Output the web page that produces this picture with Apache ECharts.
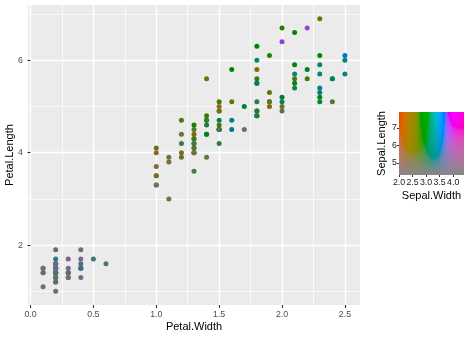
<!DOCTYPE html>
<html><head><meta charset="utf-8">
<script src="https://cdn.jsdelivr.net/npm/echarts@6/dist/echarts.min.js"></script>
<style>html,body{margin:0;padding:0;background:#fff}#c{width:474px;height:338px}</style>
</head><body><div id="c"></div>
<script>
// ---- data (iris) ----
const sepalLength = [5.1,4.9,4.7,4.6,5.0,5.4,4.6,5.0,4.4,4.9,5.4,4.8,4.8,4.3,5.8,5.7,5.4,5.1,5.7,5.1,5.4,5.1,4.6,5.1,4.8,5.0,5.0,5.2,5.2,4.7,4.8,5.4,5.2,5.5,4.9,5.0,5.5,4.9,4.4,5.1,5.0,4.5,4.4,5.0,5.1,4.8,5.1,4.6,5.3,5.0,
7.0,6.4,6.9,5.5,6.5,5.7,6.3,4.9,6.6,5.2,5.0,5.9,6.0,6.1,5.6,6.7,5.6,5.8,6.2,5.6,5.9,6.1,6.3,6.1,6.4,6.6,6.8,6.7,6.0,5.7,5.5,5.5,5.8,6.0,5.4,6.0,6.7,6.3,5.6,5.5,5.5,6.1,5.8,5.0,5.6,5.7,5.7,6.2,5.1,5.7,
6.3,5.8,7.1,6.3,6.5,7.6,4.9,7.3,6.7,7.2,6.5,6.4,6.8,5.7,5.8,6.4,6.5,7.7,7.7,6.0,6.9,5.6,7.7,6.3,6.7,7.2,6.2,6.1,6.4,7.2,7.4,7.9,6.4,6.3,6.1,7.7,6.3,6.4,6.0,6.9,6.7,6.9,5.8,6.8,6.7,6.7,6.3,6.5,6.2,5.9];
const sepalWidth = [3.5,3.0,3.2,3.1,3.6,3.9,3.4,3.4,2.9,3.1,3.7,3.4,3.0,3.0,4.0,4.4,3.9,3.5,3.8,3.8,3.4,3.7,3.6,3.3,3.4,3.0,3.4,3.5,3.4,3.2,3.1,3.4,4.1,4.2,3.1,3.2,3.5,3.6,3.0,3.4,3.5,2.3,3.2,3.5,3.8,3.0,3.8,3.2,3.7,3.3,
3.2,3.2,3.1,2.3,2.8,2.8,3.3,2.4,2.9,2.7,2.0,3.0,2.2,2.9,2.9,3.1,3.0,2.7,2.2,2.5,3.2,2.8,2.5,2.8,2.9,3.0,2.8,3.0,2.9,2.6,2.4,2.4,2.7,2.7,3.0,3.4,3.1,2.3,3.0,2.5,2.6,3.0,2.6,2.3,2.7,3.0,2.9,2.9,2.5,2.8,
3.3,2.7,3.0,2.9,3.0,3.0,2.5,2.9,2.5,3.6,3.2,2.7,3.0,2.5,2.8,3.2,3.0,3.8,2.6,2.2,3.2,2.8,2.8,2.7,3.3,3.2,2.8,3.0,2.8,3.0,2.8,3.8,2.8,2.8,2.6,3.0,3.4,3.1,3.0,3.1,3.1,3.1,2.7,3.2,3.3,3.0,2.5,3.0,3.4,3.0];
const petalLength = [1.4,1.4,1.3,1.5,1.4,1.7,1.4,1.5,1.4,1.5,1.5,1.6,1.4,1.1,1.2,1.5,1.3,1.4,1.7,1.5,1.7,1.5,1.0,1.7,1.9,1.6,1.6,1.5,1.4,1.6,1.6,1.5,1.5,1.4,1.5,1.2,1.3,1.4,1.3,1.5,1.3,1.3,1.3,1.6,1.9,1.4,1.6,1.4,1.5,1.4,
4.7,4.5,4.9,4.0,4.6,4.5,4.7,3.3,4.6,3.9,3.5,4.2,4.0,4.7,3.6,4.4,4.5,4.1,4.5,3.9,4.8,4.0,4.9,4.7,4.3,4.4,4.8,5.0,4.5,3.5,3.8,3.7,3.9,5.1,4.5,4.5,4.7,4.4,4.1,4.0,4.4,4.6,4.0,3.3,4.2,4.2,4.2,4.3,3.0,4.1,
6.0,5.1,5.9,5.6,5.8,6.6,4.5,6.3,5.8,6.1,5.1,5.3,5.5,5.0,5.1,5.3,5.5,6.7,6.9,5.0,5.7,4.9,6.7,4.9,5.7,6.0,4.8,4.9,5.6,5.8,6.1,6.4,5.6,5.1,5.6,6.1,5.6,5.5,4.8,5.4,5.6,5.1,5.1,5.9,5.7,5.2,5.0,5.2,5.4,5.1];
const petalWidth = [0.2,0.2,0.2,0.2,0.2,0.4,0.3,0.2,0.2,0.1,0.2,0.2,0.1,0.1,0.2,0.4,0.4,0.3,0.3,0.3,0.2,0.4,0.2,0.5,0.2,0.2,0.4,0.2,0.2,0.2,0.2,0.4,0.1,0.2,0.2,0.2,0.2,0.1,0.2,0.2,0.3,0.3,0.2,0.6,0.4,0.3,0.2,0.2,0.2,0.2,
1.4,1.5,1.5,1.3,1.5,1.3,1.6,1.0,1.3,1.4,1.0,1.5,1.0,1.4,1.3,1.4,1.5,1.0,1.5,1.1,1.8,1.3,1.5,1.2,1.3,1.4,1.4,1.7,1.5,1.0,1.1,1.0,1.2,1.6,1.5,1.6,1.5,1.3,1.3,1.3,1.2,1.4,1.2,1.0,1.3,1.2,1.3,1.3,1.1,1.3,
2.5,1.9,2.1,1.8,2.2,2.1,1.7,1.8,1.8,2.5,2.0,1.9,2.1,2.0,2.4,2.3,1.8,2.2,2.3,1.5,2.3,2.0,2.0,1.8,2.1,1.8,1.8,1.8,2.1,1.6,1.9,2.0,2.2,1.5,1.4,2.3,2.4,1.8,1.8,2.1,2.4,2.3,1.9,2.3,2.5,2.3,1.9,2.0,2.3,1.8];

// ---- tick labels ----
const xMajorTicks = [0, 0.5, 1, 1.5, 2, 2.5];
const xMinorTicks = [0.25, 0.75, 1.25, 1.75, 2.25];
const yMajorTicks = [2, 4, 6];
const yMinorTicks = [1, 3, 5, 7];
const legendWidthTicks = [2.0, 2.5, 3.0, 3.5, 4.0];
const legendLengthTicks = [5, 6, 7];

// ---- scales ----
function expandRange(arr) {
  const lo = Math.min(...arr), hi = Math.max(...arr), d = (hi - lo) * 0.05;
  return [lo - d, hi + d];
}
const xr = expandRange(petalWidth), yr = expandRange(petalLength);
const swMin = Math.min(...sepalWidth), swMax = Math.max(...sepalWidth);
const slMin = Math.min(...sepalLength), slMax = Math.max(...sepalLength);

// bivariate colour: hue from Sepal.Width, chroma from Sepal.Length (HCL, clipped)
const hueStops = [[2.0,15],[2.2,48],[2.4,70],[2.6,85],[2.8,115],[3.0,135],[3.3,190],[3.6,245],[3.8,280],[4.0,305],[4.4,330]];
function hueOf(w) {
  if (w <= hueStops[0][0]) return hueStops[0][1];
  for (let i = 1; i < hueStops.length; i++) {
    if (w <= hueStops[i][0]) {
      const a = hueStops[i-1], b = hueStops[i];
      return a[1] + (b[1] - a[1]) * (w - a[0]) / (b[0] - a[0]);
    }
  }
  return hueStops[hueStops.length-1][1];
}
function hcl2rgb(h, c, l) {
  const XN = 95.047, YN = 100, ZN = 108.883;
  const hr = h * Math.PI / 180;
  const U = c * Math.cos(hr), V = c * Math.sin(hr);
  const Y = l > 8 ? YN * Math.pow((l + 16) / 116, 3) : YN * l / 903.3;
  const den = XN + 15 * YN + 3 * ZN;
  const un = 4 * XN / den, vn = 9 * YN / den;
  const up = U / (13 * l) + un, vp = V / (13 * l) + vn;
  const X = 9 * Y * up / (4 * vp);
  const Z = Y * (12 - 3 * up - 20 * vp) / (4 * vp);
  const x = X / 100, y = Y / 100, z = Z / 100;
  const r = 3.240479 * x - 1.537150 * y - 0.498535 * z;
  const g = -0.969256 * x + 1.875992 * y + 0.041556 * z;
  const b = 0.055648 * x - 0.204043 * y + 1.057311 * z;
  const gam = v => { v = Math.min(1, Math.max(0, v)); v = v <= 0.0031308 ? 12.92 * v : 1.055 * Math.pow(v, 1 / 2.4) - 0.055; return Math.round(v * 255); };
  return [gam(r), gam(g), gam(b)];
}
function colourRGB(w, len, lum, cmax) {
  const c = Math.max(0, (len - slMin) / (slMax - slMin)) * cmax;
  return hcl2rgb(hueOf(w), c, lum);
}

const points = petalWidth.map((pw, i) => [pw, petalLength[i], sepalWidth[i], sepalLength[i]]);

const FONT = 'Liberation Sans, Arial, sans-serif';
const chart = echarts.init(document.getElementById('c'), null, { renderer: 'canvas' });
const hidden = { show: false };
chart.setOption({
  animation: false,
  textStyle: { fontFamily: FONT },
  grid: [
    { left: 28, right: 114, top: 5, bottom: 33, show: true, backgroundColor: '#EBEBEB', borderWidth: 0, outerBoundsMode: 'none', containLabel: false },
    { left: 399, right: 10, top: 112, bottom: 163, show: false, outerBoundsMode: 'none', containLabel: false }
  ],
  xAxis: [
    { gridIndex: 0, type: 'value', min: xr[0], max: xr[1], position: 'bottom',
      axisLine: hidden,
      axisTick: { show: true, customValues: xMajorTicks, length: 3, lineStyle: { color: '#333333', width: 1.1 } },
      axisLabel: { customValues: xMajorTicks, formatter: v => v.toFixed(1), color: '#4D4D4D', fontSize: 8.8, margin: 5, fontFamily: FONT },
      splitLine: { show: true, lineStyle: { color: '#FFFFFF', width: 1.4 } },
      name: 'Petal.Width', nameLocation: 'middle', nameGap: 16, nameMoveOverlap: false,
      nameTextStyle: { color: '#000000', fontSize: 11, fontFamily: FONT } },
    { gridIndex: 0, type: 'value', min: xr[0], max: xr[1], position: 'bottom',
      axisLine: hidden, axisTick: { show: false, customValues: xMinorTicks },
      axisLabel: { show: false, customValues: xMinorTicks },
      splitLine: { show: true, lineStyle: { color: '#FFFFFF', width: 0.7 } } },
    { gridIndex: 1, type: 'value', min: swMin, max: swMax, position: 'bottom',
      axisLine: hidden,
      axisTick: { show: true, customValues: legendWidthTicks, length: 2, lineStyle: { color: '#333333', width: 1 } },
      axisLabel: { customValues: legendWidthTicks, formatter: v => v.toFixed(1), color: '#1A1A1A', fontSize: 8.8, margin: 3, fontFamily: FONT },
      splitLine: hidden,
      name: 'Sepal.Width', nameLocation: 'middle', nameGap: 15,
      nameTextStyle: { color: '#000000', fontSize: 11, fontFamily: FONT } }
  ],
  yAxis: [
    { gridIndex: 0, type: 'value', min: yr[0], max: yr[1], position: 'left',
      axisLine: hidden,
      axisTick: { show: true, customValues: yMajorTicks, length: 3, lineStyle: { color: '#333333', width: 1.1 } },
      axisLabel: { customValues: yMajorTicks, formatter: v => String(v), color: '#4D4D4D', fontSize: 8.8, margin: 5, fontFamily: FONT },
      splitLine: { show: true, lineStyle: { color: '#FFFFFF', width: 1.4 } },
      name: 'Petal.Length', nameLocation: 'middle', nameGap: 13, nameMoveOverlap: false,
      nameTextStyle: { color: '#000000', fontSize: 11, fontFamily: FONT } },
    { gridIndex: 0, type: 'value', min: yr[0], max: yr[1], position: 'left',
      axisLine: hidden, axisTick: { show: false, customValues: yMinorTicks },
      axisLabel: { show: false, customValues: yMinorTicks },
      splitLine: { show: true, lineStyle: { color: '#FFFFFF', width: 0.7 } } },
    { gridIndex: 1, type: 'value', min: slMin, max: slMax, position: 'left',
      axisLine: hidden,
      axisTick: { show: true, customValues: legendLengthTicks, length: 2, lineStyle: { color: '#333333', width: 1 } },
      axisLabel: { customValues: legendLengthTicks, formatter: v => String(v), color: '#1A1A1A', fontSize: 8.8, margin: 2, fontFamily: FONT },
      splitLine: hidden,
      name: 'Sepal.Length', nameLocation: 'middle', nameGap: 12,
      nameTextStyle: { color: '#000000', fontSize: 11, fontFamily: FONT } }
  ],
  series: [{
    type: 'scatter', xAxisIndex: 0, yAxisIndex: 0, silent: true,
    symbol: 'circle', symbolSize: 5,
    data: points,
    itemStyle: { opacity: 1, color: p => 'rgb(' + colourRGB(p.data[2], p.data[3], 46, 110).join(',') + ')' }
  }]
});

// legend raster, positioned through the legend grid's scales
const p0 = chart.convertToPixel({ gridIndex: 1 }, [swMin, slMax]);
const p1 = chart.convertToPixel({ gridIndex: 1 }, [swMax, slMin]);
const W = Math.round(p1[0] - p0[0]), H = Math.round(p1[1] - p0[1]);
const cv = document.createElement('canvas');
cv.width = W; cv.height = H;
const ctx = cv.getContext('2d');
const img = ctx.createImageData(W, H);
for (let j = 0; j < H; j++) {
  for (let i = 0; i < W; i++) {
    const w = swMin + (i + 0.5) / W * (swMax - swMin);
    const len = slMax - (j + 0.5) / H * (slMax - slMin);
    const rgb = colourRGB(w, len, 56, 165);
    const k = (j * W + i) * 4;
    img.data[k] = rgb[0]; img.data[k+1] = rgb[1]; img.data[k+2] = rgb[2]; img.data[k+3] = 255;
  }
}
ctx.putImageData(img, 0, 0);
chart.setOption({
  graphic: [{ type: 'image', left: p0[0], top: p0[1], z: -1, silent: true,
    style: { image: cv.toDataURL(), width: W, height: H } }]
});
</script></body></html>
